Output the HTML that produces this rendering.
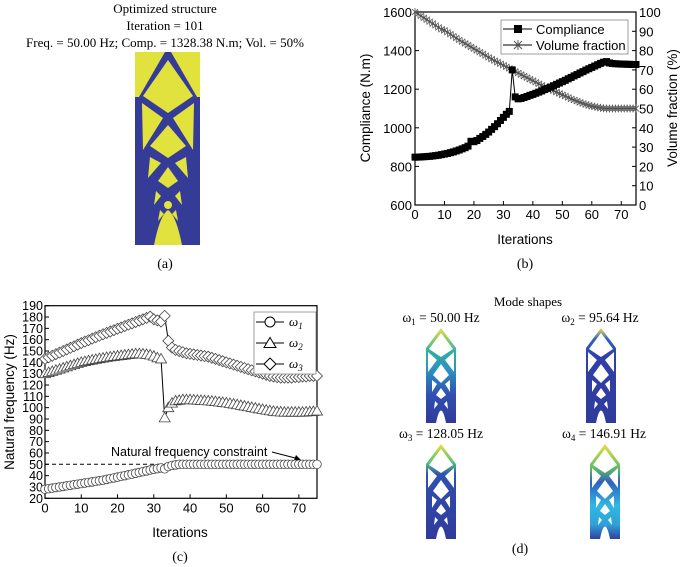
<!DOCTYPE html>
<html><head><meta charset="utf-8"><style>
body{margin:0;background:#fff;width:685px;height:567px;overflow:hidden}
svg{display:block}
.s{font-family:"Liberation Serif",serif}
.a{font-family:"Liberation Sans",sans-serif}
</style></head><body>
<svg id="fig" width="685" height="567" viewBox="0 0 685 567">
<defs>
<linearGradient id="g1" x1="0" y1="0" x2="0" y2="1"><stop offset="0" stop-color="#e8e040"/><stop offset="0.25" stop-color="#30b0a0"/><stop offset="0.45" stop-color="#2a90c0"/><stop offset="0.7" stop-color="#3050b0"/><stop offset="1" stop-color="#303a9a"/></linearGradient>
<linearGradient id="g2" x1="0" y1="0" x2="0" y2="1"><stop offset="0" stop-color="#e8e040"/><stop offset="0.12" stop-color="#3060c0"/><stop offset="0.3" stop-color="#3040a8"/><stop offset="1" stop-color="#303a9a"/></linearGradient>
<linearGradient id="g3" x1="0" y1="0" x2="0" y2="1"><stop offset="0" stop-color="#e8e040"/><stop offset="0.2" stop-color="#50c080"/><stop offset="0.32" stop-color="#3050b0"/><stop offset="1" stop-color="#303a9a"/></linearGradient>
<linearGradient id="g4" x1="0" y1="0" x2="0" y2="1"><stop offset="0" stop-color="#e8e040"/><stop offset="0.25" stop-color="#60c060"/><stop offset="0.4" stop-color="#3060c0"/><stop offset="0.65" stop-color="#30b8e0"/><stop offset="0.85" stop-color="#30a0d8"/><stop offset="1" stop-color="#3040a0"/></linearGradient>
<g id="mode">
<path d="M17,0 L2,20 L2,95 L12,95 Q17,70 22,95 L32,95 L32,20 Z M17,5 L29,21 L17,29 L5,21 Z M4,24 L13,32 L4,44 Z M30,24 L21,32 L30,44 Z M17,36 L25,47 L17,55 L9,47 Z M8,52 L13,56 L8,64 Z M26,52 L21,56 L26,64 Z M17,60 L22,67 L17,71 L12,67 Z M11,73 L14,76 L10,81 Z M23,73 L20,76 L24,81 Z" fill-rule="evenodd"/>
</g>
</defs>

<g>
<text class="s" x="165" y="13" font-size="13" text-anchor="middle">Optimized structure</text>
<text class="s" x="165" y="30" font-size="13" text-anchor="middle">Iteration = 101</text>
<text class="s" x="165" y="47" font-size="13" text-anchor="middle">Freq. = 50.00 Hz; Comp. = 1328.38 N.m; Vol. = 50%</text>
<g>
<rect x="135" y="52" width="65" height="193" fill="#343c98"/>
<g fill="#e2e23f">
<polygon points="135,52 165,52 139,97 135,97"/>
<polygon points="171,52 200,52 200,97 197,97"/>
<polygon points="168,60 193,96 168,113 143,96"/>
<polygon points="142,103 163,118 143,150"/>
<polygon points="194,103 173,118 193,150"/>
<polygon points="168,125 186,146 168,158 150,146"/>
<polygon points="150,157 161,163 148,178"/>
<polygon points="186,157 175,163 188,178"/>
<polygon points="168,167 178,181 168,188 158,181"/>
<polygon points="156,191 161,196 154,205"/>
<polygon points="180,191 175,196 182,205"/>
<circle cx="168" cy="205" r="4"/>
<polygon points="160,210 164,214 158,221"/>
<polygon points="176,210 172,214 178,221"/>
<path d="M154,245 Q160,215 168,210 Q176,215 182,245 Z"/>
</g>
</g>
<text class="s" x="165" y="268" font-size="14" text-anchor="middle">(a)</text>
</g>

<g id="pb"></g>
<g id="pc"></g>

<g>
<text class="s" x="528" y="306" font-size="13" text-anchor="middle">Mode shapes</text>
<text class="s" x="441" y="322" font-size="13.5" text-anchor="middle">ω<tspan font-size="9" dy="3">1</tspan><tspan dy="-3"> = 50.00 Hz</tspan></text>
<text class="s" x="600" y="322" font-size="13.5" text-anchor="middle">ω<tspan font-size="9" dy="3">2</tspan><tspan dy="-3"> = 95.64 Hz</tspan></text>
<text class="s" x="441" y="438" font-size="13.5" text-anchor="middle">ω<tspan font-size="9" dy="3">3</tspan><tspan dy="-3"> = 128.05 Hz</tspan></text>
<text class="s" x="604" y="438" font-size="13.5" text-anchor="middle">ω<tspan font-size="9" dy="3">4</tspan><tspan dy="-3"> = 146.91 Hz</tspan></text>
<use href="#mode" x="424" y="328" fill="url(#g1)"/>
<use href="#mode" x="584" y="328" fill="url(#g2)"/>
<use href="#mode" x="424" y="444" fill="url(#g3)"/>
<use href="#mode" x="588" y="444" fill="url(#g4)"/>
<text class="s" x="520" y="553" font-size="14" text-anchor="middle">(d)</text>
</g>
</svg>
<script>
const iterations=[];for(let i=0;i<=75;i++)iterations.push(i);
const compliance=[848,848,849,850,851,852,854,856,858,861,864,867,871,875,880,885,891,897,905,930,928,934,945,955,966,978,992,1006,1021,1038,1054,1070,1085,1300,1160,1150,1152,1157,1162,1168,1173,1179,1185,1191,1198,1204,1211,1218,1225,1232,1239,1246,1254,1261,1269,1276,1284,1291,1299,1306,1313,1320,1327,1334,1340,1343,1336,1333,1332,1331,1330,1330,1329,1329,1328,1328];
const volumeFraction=[100,99,98,97,96,95,94,93,92,91,90.5,89.5,88.5,87.5,86.5,85.5,84.6,83.7,82.8,81.9,81,80.1,79.2,78.3,77.4,76.5,75.6,74.8,74,73.2,72.4,71.6,70.8,70,69.2,68.4,67.6,66.8,66,65.2,64.4,63.6,62.8,62,61.3,60.6,59.9,59.2,58.5,57.8,57.1,56.4,55.7,55,54.4,53.8,53.2,52.6,52.1,51.6,51.2,50.9,50.6,50.3,50.1,50,50,50,50,50,50,50,50,50,50,50];
const omega1=[28,28.5,29,29.5,30,30.5,31,31.5,32,32.5,33,33.5,34,34.5,35,35.5,36,36.7,37.4,38,38.7,39.4,40,40.7,41.4,42.1,42.8,43.5,44.2,45,45.6,46.2,46.8,46,48,49,49.5,50,50,50,50,50,50,50,50,50,50,50,50,50,50,50,50,50,50,50,50,50,50,50,50,50,50,50,50,50,50,50,50,50,50,50,50,50,50,50];
const omega2=[130,131,132,133,134,135,136,137,138,139,140,140.7,141.4,142,142.6,143.2,143.8,144.3,144.8,145.2,145.6,146,146.4,146.8,147.2,147.5,147.6,147.4,147,146.5,145.5,144,143,91,100,104,106,106.5,107,107,107,106.8,106.6,106.4,106.2,106,105.7,105.4,105,104.6,104.2,103.7,103.2,102.6,102,101.4,100.8,100.2,99.6,99,98.4,97.8,97.3,96.8,96.4,96.2,96,96,96,96,96,96,96.2,96.4,96.6,97];
const omega3=[143,144.4,145.8,147.2,148.6,150,151.4,152.8,154.2,155.6,157,158.3,159.6,160.9,162.2,163.5,164.8,166,167.2,168.4,169.6,170.8,172,173.2,174.4,175.6,176.8,178,179.2,180.4,178,177,176,181,159,153,151,150,149,148,147.5,147,146.5,146,145.5,145,144,143,142,141,140,139,138,137,136,135,134,133,132,131,130,129,128,127.5,127,126.5,126.5,126.5,126.5,127,127,127.5,127.5,128,128,128];
const bXTicks=[0,10,20,30,40,50,60,70];
const bLeftTicks=[600,800,1000,1200,1400,1600];
const bRightTicks=[0,10,20,30,40,50,60,70,80,90,100];
const cXTicks=[0,10,20,30,40,50,60,70];
const cYTicks=[20,30,40,50,60,70,80,90,100,110,120,130,140,150,160,170,180,190];
const constraintValue=50;

const NS='http://www.w3.org/2000/svg';
function mk(parent,tag,attrs){const e=document.createElementNS(NS,tag);for(const k in attrs)e.setAttribute(k,attrs[k]);parent.appendChild(e);return e;}
function txt(parent,s,attrs){const e=mk(parent,'text',attrs);e.textContent=s;return e;}

(function(){
const g=document.getElementById('pb');
const L=415,R=636,T=12,B=205;
const x=v=>L+(v/75)*(R-L);
const yL=v=>B-(v-600)/1000*(B-T);
const yR=v=>B-v/100*(B-T);
let e=mk(g,'rect',{x:L,y:T,width:R-L,height:B-T,fill:'none',stroke:'#000','stroke-width':1.2});


bXTicks.forEach(v=>{mk(g,'line',{x1:x(v),x2:x(v),y1:B,y2:B-4,stroke:'#000'});
 e=txt(g,String(v),{x:x(v),y:B+14,'font-size':13,'text-anchor':'middle',class:'a'});
 
 });
bLeftTicks.forEach(v=>{mk(g,'line',{x1:L,x2:L+4,y1:yL(v),y2:yL(v),stroke:'#000'});
 e=txt(g,String(v),{x:L-3,y:yL(v)+5,'font-size':13,'text-anchor':'end',class:'a'});
 
 });
bRightTicks.forEach(v=>{mk(g,'line',{x1:R,x2:R-4,y1:yR(v),y2:yR(v),stroke:'#000'});
 e=txt(g,String(v),{x:R+3,y:yR(v)+5,'font-size':13,'text-anchor':'start',class:'a'});
 
 });
e=txt(g,'Compliance (N.m)',{x:0,y:0,'font-size':13.5,'text-anchor':'middle',class:'a',transform:'translate(370,108) rotate(-90)'});


e=txt(g,'Volume fraction (%)',{x:0,y:0,'font-size':13.5,'text-anchor':'middle',class:'a',transform:'translate(677,108) rotate(-90)'});


e=txt(g,'Iterations',{x:525,y:244,'font-size':13.5,'text-anchor':'middle',class:'a'});


e=txt(g,'(b)',{x:525,y:268,'font-size':14,'text-anchor':'middle',class:'s'});


let d='';iterations.forEach((it,i)=>{d+=(i?'L':'M')+x(it)+','+yR(volumeFraction[i]);});
e=mk(g,'path',{d:d,fill:'none',stroke:'#444','stroke-width':1});


iterations.forEach((it,i)=>{const cx=x(it),cy=yR(volumeFraction[i]),r=3;
 e=mk(g,'path',{d:`M${cx-r},${cy-r}L${cx+r},${cy+r}M${cx-r},${cy+r}L${cx+r},${cy-r}M${cx},${cy-r-1}L${cx},${cy+r+1}`,stroke:'#555','stroke-width':0.8});
 
 });
d='';iterations.forEach((it,i)=>{d+=(i?'L':'M')+x(it)+','+yL(compliance[i]);});
e=mk(g,'path',{d:d,fill:'none',stroke:'#000','stroke-width':1});


iterations.forEach((it,i)=>{
 e=mk(g,'rect',{x:x(it)-3.5,y:yL(compliance[i])-3.5,width:7,height:7,fill:'#000'});
 
 });
const lg=mk(g,'g',{});


mk(lg,'rect',{x:501,y:20,width:127,height:34,fill:'#fff',stroke:'#888','stroke-width':0.8});
mk(lg,'line',{x1:503,x2:532,y1:29,y2:29,stroke:'#000'});
mk(lg,'rect',{x:514,y:25,width:8,height:8,fill:'#000'});
e=txt(lg,'Compliance',{x:536,y:34,'font-size':13,class:'a'});


mk(lg,'line',{x1:503,x2:532,y1:45,y2:45,stroke:'#000'});
mk(lg,'path',{d:'M514,41L522,49M514,49L522,41M518,40L518,50',stroke:'#555'});
e=txt(lg,'Volume fraction',{x:536,y:50,'font-size':13,class:'a'});


})();

(function(){
const g=document.getElementById('pc');
const L=45,R=317,T=305.7,B=498.3;
const x=v=>L+(v/75)*(R-L);
const y=v=>B-(v-20)/170*(B-T);
let e=mk(g,'rect',{x:L,y:T,width:R-L,height:B-T,fill:'none',stroke:'#000','stroke-width':1.2});


cXTicks.forEach(v=>{mk(g,'line',{x1:x(v),x2:x(v),y1:B,y2:B-4,stroke:'#000'});
 e=txt(g,String(v),{x:x(v),y:B+14,'font-size':13,'text-anchor':'middle',class:'a'});
 
 });
cYTicks.forEach(v=>{mk(g,'line',{x1:L,x2:L+4,y1:y(v),y2:y(v),stroke:'#000'});
 e=txt(g,String(v),{x:L-2,y:y(v)+4.5,'font-size':12.5,'text-anchor':'end',class:'a'});
 
 });
e=txt(g,'Natural frequency (Hz)',{x:0,y:0,'font-size':13.5,'text-anchor':'middle',class:'a',transform:'translate(14,402) rotate(-90)'});


e=txt(g,'Iterations',{x:180,y:537,'font-size':13.5,'text-anchor':'middle',class:'a'});


e=txt(g,'(c)',{x:180,y:561,'font-size':14,'text-anchor':'middle',class:'s'});


e=mk(g,'line',{x1:L,x2:R,y1:y(constraintValue),y2:y(constraintValue),stroke:'#000','stroke-dasharray':'4,3'});


e=txt(g,'Natural frequency constraint',{x:111,y:456,'font-size':12.5,class:'a'});


mk(g,'line',{x1:272,x2:299,y1:452,y2:459,stroke:'#000'});
mk(g,'polygon',{points:'301,460 294,460 296,455',fill:'#000'});
function line(arr,name){let d='';iterations.forEach((it,i)=>{d+=(i?'L':'M')+x(it)+','+y(arr[i]);});
 const p=mk(g,'path',{d:d,fill:'none',stroke:'#000','stroke-width':1});
 
 }
line(omega1,'omega1-line');line(omega2,'omega2-line');line(omega3,'omega3-line');
iterations.forEach((it,i)=>{
 e=mk(g,'circle',{cx:x(it),cy:y(omega1[i]),r:4.3,fill:'#fff',stroke:'#444','stroke-width':0.8});
 
 
 const cx=x(it),cy=y(omega2[i]);
 e=mk(g,'polygon',{points:`${cx},${cy-5.5} ${cx+5.5},${cy+4} ${cx-5.5},${cy+4}`,fill:'#fff',stroke:'#444','stroke-width':0.8});
 
 
 const dx=x(it),dy=y(omega3[i]);
 e=mk(g,'polygon',{points:`${dx},${dy-5.5} ${dx+5.5},${dy} ${dx},${dy+5.5} ${dx-5.5},${dy}`,fill:'#fff',stroke:'#444','stroke-width':0.8});
 
 });
const lg=mk(g,'g',{});


mk(lg,'rect',{x:254,y:312,width:62,height:62,fill:'#fff',stroke:'#888','stroke-width':0.8});
[['ω','1',322],['ω','2',343],['ω','3',364]].forEach((s,k)=>{
 mk(lg,'line',{x1:256,x2:284,y1:s[2],y2:s[2],stroke:'#000'});
 const cx=270,cy=s[2];
 if(k==0)mk(lg,'circle',{cx:cx,cy:cy,r:5,fill:'#fff',stroke:'#000'});
 else if(k==1)mk(lg,'polygon',{points:`${cx},${cy-5.5} ${cx+6},${cy+4.5} ${cx-6},${cy+4.5}`,fill:'#fff',stroke:'#000'});
 else mk(lg,'polygon',{points:`${cx},${cy-6} ${cx+6},${cy} ${cx},${cy+6} ${cx-6},${cy}`,fill:'#fff',stroke:'#000'});
 const t=mk(lg,'text',{x:289,y:cy+4,'font-size':13,'font-style':'italic',class:'s'});
 t.textContent=s[0];
 const sb=mk(t,'tspan',{'font-size':9,dy:3});sb.textContent=s[1];
 
 
});
})();
</script>
</body></html>
